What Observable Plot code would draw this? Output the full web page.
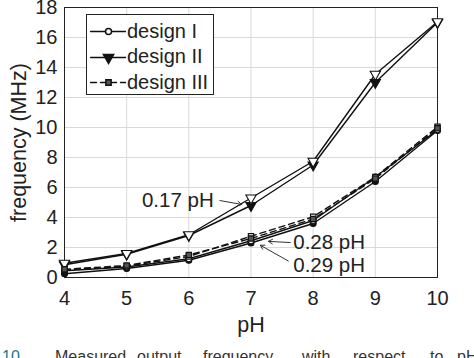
<!DOCTYPE html>
<html><head><meta charset="utf-8">
<script src="https://cdn.jsdelivr.net/npm/d3@7"></script>
<script src="https://cdn.jsdelivr.net/npm/@observablehq/plot@0.6"></script>
<style>
body{margin:0;background:#fff;font-family:"Liberation Sans",Arial,sans-serif;}
#wrap{position:relative;width:474px;height:358px;overflow:hidden;}
#legend{position:absolute;left:86px;top:14px;width:126px;height:79px;border:1px solid #222;background:#fff;}
.row{position:absolute;left:0;height:26px;display:flex;align-items:center;font-size:20px;color:#222;}
.row svg{margin-left:3px;margin-right:1px;}
#cap{position:absolute;left:0;top:348px;width:474px;height:20px;font-size:16px;color:#333;white-space:nowrap;}
#cap span{position:absolute;top:0;}
</style></head>
<body><div id="wrap"><div id="chart"></div>
<div id="legend"></div>
<div id="cap"></div>
</div>
<script>
const pH = [4,5,6,7,8,9,10];
const xTicks = [4,5,6,7,8,9,10];
const yTicks = [0,2,4,6,8,10,12,14,16,18];
const d1a = [0.25,0.6,1.15,2.3,3.6,6.4,9.8];
const d1b = [0.45,0.7,1.25,2.45,3.8,6.7,9.85];
const d2a = [0.85,1.55,2.8,4.8,7.5,13.0,17.0];
const d2b = [0.95,1.6,2.85,5.3,7.75,13.55,17.05];
const d3a = [0.5,0.75,1.4,2.75,4.05,6.7,10.05];
const d3b = [0.55,0.8,1.5,2.6,3.9,6.6,9.95];
const legendNames = ["design I","design II","design III"];
const captionWords = ["Measured","output","frequency","with","respect","to","pH","va"];
const captionLeft = [55,137,203,302,353,430,457,482];
const notes = [
  {text:"0.17 pH", x:6.4, y:5.15, anchor:"end", x1:6.5, y1:5.13, x2:6.85, y2:4.87},
  {text:"0.28 pH", x:7.68, y:2.35, anchor:"start", x1:7.63, y1:2.33, x2:7.28, y2:2.41},
  {text:"0.29 pH", x:7.68, y:0.8, anchor:"start", x1:7.6, y1:1.1, x2:7.15, y2:2.15}
];

const series = [
  {v:d1a, sym:"circle", fill:"#111", dash:null, rot:0},
  {v:d1b, sym:"circle", fill:"white", dash:null, rot:0},
  {v:d2a, sym:"triangle", fill:"#111", dash:null, rot:180},
  {v:d2b, sym:"triangle", fill:"white", dash:null, rot:180},
  {v:d3a, sym:"square", fill:"white", dash:"6,4", rot:0},
  {v:d3b, sym:"square", fill:"#555", dash:"6,4", rot:0}
];
const font = '"Liberation Sans",Arial,sans-serif';
const marks = [
  Plot.gridX(xTicks,{stroke:"#d9d9d9",strokeOpacity:1}),
  Plot.gridY(yTicks,{stroke:"#d9d9d9",strokeOpacity:1}),
  Plot.frame({stroke:"#222"})
];
for (const s of series) {
  const data = pH.map((x,i)=>({x, y:s.v[i]}));
  marks.push(Plot.line(data,{x:"x",y:"y",stroke:"#111",strokeWidth:1.4,strokeDasharray:s.dash}));
}
for (const s of series) {
  const data = pH.map((x,i)=>({x, y:s.v[i]}));
  marks.push(Plot.dot(data,{x:"x",y:"y",symbol:s.sym,r:s.sym==="triangle"?3.8:3,fill:s.fill,stroke:"#111",strokeWidth:1.1,rotate:s.rot}));
}
marks.push(Plot.arrow(notes,{x1:"x1",y1:"y1",x2:"x2",y2:"y2",stroke:"#333",strokeWidth:1,headLength:7}));
marks.push(Plot.text(notes.filter(d=>d.anchor==="end"),{x:"x",y:"y",text:"text",textAnchor:"end",fontSize:20.5,fill:"#222"}));
marks.push(Plot.text(notes.filter(d=>d.anchor==="start"),{x:"x",y:"y",text:"text",textAnchor:"start",fontSize:20.5,fill:"#222"}));
marks.push(Plot.axisX(xTicks,{tickSize:0,tickPadding:13,fontSize:20,label:null}));
marks.push(Plot.axisY(yTicks,{tickSize:0,tickPadding:7,fontSize:20,label:null}));
marks.push(Plot.text(["pH"],{frameAnchor:"bottom",dy:54,fontSize:21.5,fill:"#222"}));
marks.push(Plot.text(["frequency (MHz)"],{frameAnchor:"left",textAnchor:"middle",dx:-45,rotate:-90,fontSize:21.5,fill:"#222"}));

const chart = Plot.plot({
  width:474, height:345,
  marginLeft:64, marginRight:37, marginTop:7, marginBottom:68,
  x:{domain:[4,10]},
  y:{domain:[0,18]},
  style:{fontFamily:font,fontSize:"19px",color:"#222",background:"white",overflow:"visible"},
  marks
});
document.getElementById("chart").appendChild(chart);

// legend
const leg = document.getElementById("legend");
const legStyle = [
  {sym:"circle", fill:"white", dash:null, rot:0},
  {sym:"triangle", fill:"#111", dash:null, rot:180},
  {sym:"square", fill:"#555", dash:"6,4", rot:0}
];
legendNames.forEach((name,i)=>{
  const row = document.createElement("div");
  row.className="row";
  row.style.top = (3 + i*25.5) + "px";
  const st = legStyle[i];
  const sw = Plot.plot({
    width:36,height:20,margin:0,
    x:{domain:[0,1],axis:null},y:{domain:[0,1],axis:null},
    marks:[
      Plot.line([{x:0,y:0.5},{x:1,y:0.5}],{x:"x",y:"y",stroke:"#111",strokeWidth:1.4,strokeDasharray:st.dash}),
      Plot.dot([{x:0.5,y:0.5}],{x:"x",y:"y",symbol:st.sym,r:st.sym==="triangle"?3.8:3,fill:st.fill,stroke:"#111",rotate:st.rot})
    ]
  });
  row.appendChild(sw);
  const t = document.createElement("span");
  t.textContent = name;
  row.appendChild(t);
  leg.appendChild(row);
});

// caption (cut off at the bottom, as in the reference)
const cap = document.getElementById("cap");
const num = document.createElement("span");
num.textContent = "10.";
num.style.left = "2px"; num.style.color = "#1a7a80";
cap.appendChild(num);
captionWords.forEach((w,i)=>{
  const s = document.createElement("span");
  s.textContent = w;
  s.style.left = captionLeft[i] + "px";
  cap.appendChild(s);
});
</script></body></html>
